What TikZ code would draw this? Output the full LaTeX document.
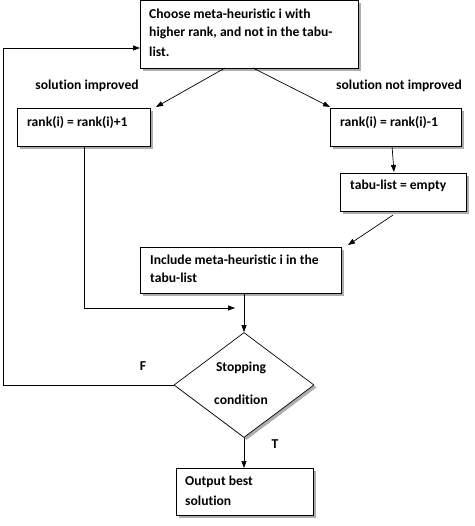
\documentclass[tikz,border=0pt]{standalone}
\usepackage{fontspec}
\setmainfont[Ligatures=NoCommon]{Carlito}
\usetikzlibrary{shadows,arrows.meta,shapes.geometric}
\begin{document}
\begin{tikzpicture}[x=1pt,y=-1pt,
  box/.style={draw, fill=white, line width=0.7pt, inner sep=0pt, anchor=north west,
    drop shadow={shadow xshift=2.5pt, shadow yshift=-2.5pt, fill=black!40, opacity=0.8}},
  txt/.style={font=\bfseries\fontsize{13.6}{19}\selectfont, inner sep=0pt, align=left},
  arr/.style={line width=0.7pt, -{Triangle[length=7pt,width=5pt]}},
  ln/.style={line width=0.7pt}]
\useasboundingbox (0,0) rectangle (474,526);
% boxes
\node[box, minimum width=218pt, minimum height=68pt] (choose) at (140,0) {};
\node[box, minimum width=133pt, minimum height=38pt] (rankp) at (17,108) {};
\node[box, minimum width=131pt, minimum height=38pt] (rankm) at (330,108) {};
\node[box, minimum width=126pt, minimum height=38pt] (tabu) at (340,173) {};
\node[box, minimum width=201pt, minimum height=46pt] (incl) at (140,247) {};
\node[diamond, draw, fill=white, line width=0.7pt, inner sep=0pt, minimum width=140pt, minimum height=105pt,
  drop shadow={shadow xshift=2.5pt, shadow yshift=-2.5pt, fill=black!40, opacity=0.8}] (stop) at (244,385) {};
\node[box, minimum width=137pt, minimum height=47pt] (out) at (176,468) {};
% texts
\node[txt, anchor=west] (t1) at (149,14) {Choose meta-heuristic i with};
\node[txt, anchor=west] (t1b) at (149,33) {higher rank, and not in the tabu-};
\node[txt, anchor=west] (t1c) at (149,52) {list.};
\node[txt, anchor=west] (t2) at (27,122) {rank(i) = rank(i)+1};
\node[txt, anchor=west] (t3) at (340,122) {rank(i) = rank(i)-1};
\node[txt, anchor=west] (t4) at (350,186) {tabu-list = empty};
\node[txt, anchor=west] (t5) at (150,260) {Include meta-heuristic i in the};
\node[txt, anchor=west] (t5b) at (150,278) {tabu-list};
\node[txt] (t6) at (241,368) {Stopping};
\node[txt] (t6b) at (241,400) {condition};
\node[txt, anchor=west] (t7) at (185,482) {Output best};
\node[txt, anchor=west] (t7b) at (185,501) {solution};
\node[txt] (l1) at (87,86) {solution improved};
\node[txt] (l2) at (399,86) {solution not improved};
\node[txt] (lf) at (143,366) {F};
\node[txt] (lt) at (275,444) {T};
% coordinates
\coordinate (cin) at (140,48);
\coordinate (cs1) at (225,68);
\coordinate (ce1) at (156,107);
\coordinate (cs2) at (253,68);
\coordinate (ce2) at (330,107);
\coordinate (cs3) at (392,146);
\coordinate (ce3) at (394,172);
\coordinate (cs4) at (393,215);
\coordinate (ce4) at (348,245);
\coordinate (cj) at (235,308);
\coordinate (cl) at (3,385);
% connectors
\draw[arr] (stop.west) -- (cl) |- (cin);
\draw[arr] (cs1) -- (ce1);
\draw[arr] (cs2) -- (ce2);
\draw[arr] (cs3) -- (ce3);
\draw[arr] (cs4) -- (ce4);
\draw[arr] (rankp.south) |- (cj);
\draw[arr] (incl.south -| stop.north) -- (stop.north);
\draw[arr] (stop.south) -- (out.north -| stop.south);
\end{tikzpicture}
\end{document}
